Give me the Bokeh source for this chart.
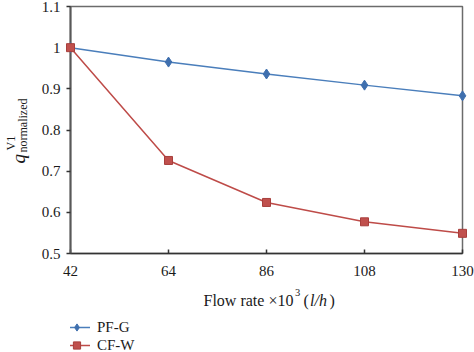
import math
from bokeh.plotting import figure
from bokeh.layouts import column
from bokeh.models import Range1d, FixedTicker, CustomJSTickFormatter, Legend, LegendItem
from bokeh.core.properties import value
from bokeh.embed import file_html
from bokeh.resources import INLINE

# ---- data ----
flow_rate = [42, 64, 86, 108, 130]
pf_g = [1.0, 0.965, 0.936, 0.909, 0.883]
cf_w = [1.0, 0.726, 0.624, 0.577, 0.549]
x_ticks = [42, 64, 86, 108, 130]
y_ticks = [0.5, 0.6, 0.7, 0.8, 0.9, 1.0, 1.1]
series_names = ["PF-G", "CF-W"]

FONT = "Liberation Serif"
TXT = "#1a1a1a"
BLUE = "#4a7ebb"
BLUE_M = "#3f6fae"
RED = "#be4b48"
RED_M = "#c0504d"
RED_E = "#a83f3c"

p = figure(width=474, height=310, output_backend="svg", toolbar_location=None,
           x_range=Range1d(x_ticks[0], x_ticks[-1]), y_range=Range1d(y_ticks[0], y_ticks[-1]),
           min_border_left=70, min_border_right=12, min_border_top=6, min_border_bottom=57)
p.background_fill_color = "white"
p.border_fill_color = "white"
p.xgrid.visible = False
p.ygrid.visible = False
p.outline_line_color = "#6b6b6b"
p.outline_line_width = 1.5

p.xaxis.ticker = FixedTicker(ticks=x_ticks)
p.yaxis.ticker = FixedTicker(ticks=y_ticks)
p.yaxis.formatter = CustomJSTickFormatter(code="return tick.toFixed(1).replace(/\\.0$/, '');")
for ax in (p.xaxis, p.yaxis):
    ax.major_label_text_font = FONT
    ax.major_label_text_font_size = "15px"
    ax.major_label_text_color = TXT
    ax.minor_tick_line_color = None
    ax.axis_label = None

p.xaxis.major_tick_in = 4
p.xaxis.major_tick_out = 0
p.xaxis.axis_line_color = "#333333"
p.xaxis.axis_line_width = 1.5
p.xaxis.major_tick_line_color = "#333333"
p.xaxis.major_tick_line_width = 1.5
p.xaxis.major_label_standoff = 12

p.yaxis.major_tick_in = 0
p.yaxis.major_tick_out = 4
p.yaxis.axis_line_color = "#595959"
p.yaxis.axis_line_width = 2
p.yaxis.major_tick_line_color = "#333333"
p.yaxis.major_tick_line_width = 1.5
p.yaxis.major_label_standoff = 6

p.line(flow_rate, pf_g, line_color=BLUE, line_width=1.5, level="overlay")
p.scatter(flow_rate, pf_g, marker="diamond", size=10, fill_color=BLUE_M,
          line_color=BLUE_M, level="overlay")
p.line(flow_rate, cf_w, line_color=RED, line_width=1.5, level="overlay")
p.scatter(flow_rate, cf_w, marker="square", size=8, fill_color=RED_M,
          line_color=RED_E, level="overlay")

# axis titles as text glyphs anchored at the frame's bottom-left corner, offset in pixels
def txt(s, dx, dy, size, style="normal", angle=0.0):
    p.text(x=[x_ticks[0]], y=[y_ticks[0]], text=[s], x_offset=dx, y_offset=dy,
           angle=angle, text_font=value(FONT), text_font_size=value(size),
           text_font_style=value(style), text_color=TXT,
           text_align="left", text_baseline="alphabetic", level="overlay")

# x-axis title: Flow rate x10^3 (l/h)
txt("Flow rate \u00d710", 133, 47, "16px")
txt("3", 224.5, 39, "10.5px")
txt("(", 233, 47, "16px")
txt("l/h", 239.5, 47, "16px", "italic")
txt(")", 259, 47, "16px")

# y-axis title: q^{V1}_{normalized}
A = math.pi / 2
txt("q", -52, -90, "19px", "italic", A)
txt("normalized", -48, -101, "12px", "normal", A)
txt("V1", -59.5, -103, "12px", "normal", A)

# legend panel below the chart (its sample renderers lie outside its empty frame)
q = figure(width=474, height=42, output_backend="svg", toolbar_location=None,
           x_axis_type=None, y_axis_type=None, min_border=0,
           x_range=Range1d(0, 1), y_range=Range1d(0, 1))
q.outline_line_color = None
q.xgrid.visible = False
q.ygrid.visible = False
q.border_fill_color = "white"
ll1 = q.line(flow_rate, pf_g, line_color=BLUE, line_width=1.5)
lm1 = q.scatter(flow_rate, pf_g, marker="diamond", size=10, fill_color=BLUE_M, line_color=BLUE_M)
ll2 = q.line(flow_rate, cf_w, line_color=RED, line_width=1.5)
lm2 = q.scatter(flow_rate, cf_w, marker="square", size=8, fill_color=RED_M, line_color=RED_E)
legend = Legend(items=[LegendItem(label=series_names[0], renderers=[ll1, lm1]),
                       LegendItem(label=series_names[1], renderers=[ll2, lm2])],
                location=(-7, -2), orientation="vertical",
                padding=0, spacing=0, margin=0, glyph_width=27, glyph_height=18,
                label_height=18, label_standoff=7,
                label_text_font=FONT, label_text_font_size="15px",
                label_text_color=TXT,
                border_line_color=None, background_fill_alpha=0)
q.add_layout(legend, "center")

layout = column(p, q, spacing=0)
open("out.html", "w").write(file_html(layout, INLINE))
